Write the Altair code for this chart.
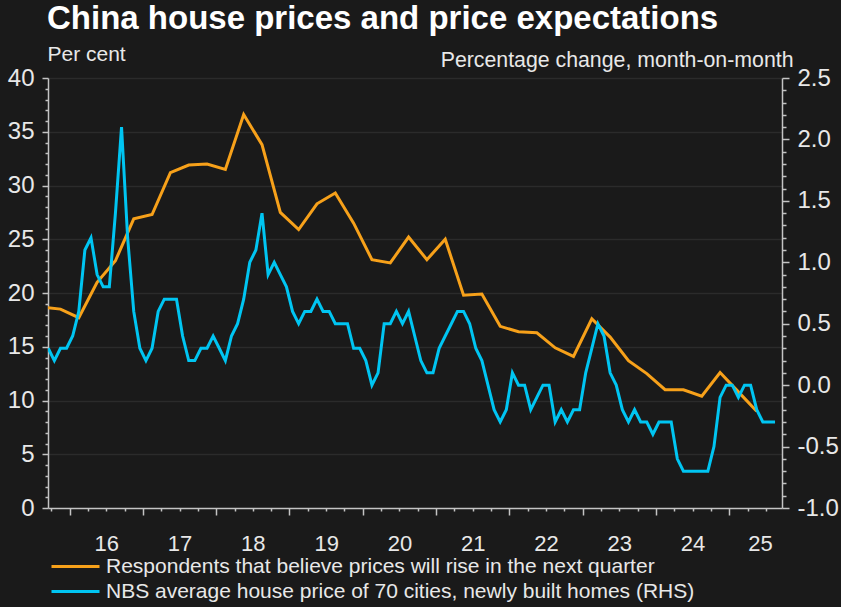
import altair as alt
import pandas as pd

# ---------------- data ----------------
ORANGE_NAME = "Respondents that believe prices will rise in the next quarter"
CYAN_NAME = "NBS average house price of 70 cities, newly built homes (RHS)"

# PBoC depositor survey, quarterly, starting 2015 Q3 (per cent)
survey_start = (2015, 3)
survey_values = [
    18.7, 18.5, 17.7, 21.0, 23.0, 26.9, 27.3, 31.2, 31.9, 32.0,
    31.5, 36.6, 33.8, 27.5, 25.9, 28.3, 29.3, 26.5, 23.1, 22.8,
    25.2, 23.1, 25.0, 19.8, 19.9, 16.9, 16.4, 16.3, 14.9, 14.1,
    17.6, 15.9, 13.7, 12.5, 11.0, 11.0, 10.4, 12.6, 10.8, 9.0,
]

# NBS 70-city new home prices, % m/m, monthly starting Sep 2015
nbs_start = (2015, 9)
nbs_values = [
    0.3, 0.2, 0.3, 0.3, 0.4, 0.6, 1.1, 1.2, 0.9, 0.8,
    0.8, 1.4, 2.1, 1.2, 0.6, 0.3, 0.2, 0.3, 0.6, 0.7,
    0.7, 0.7, 0.4, 0.2, 0.2, 0.3, 0.3, 0.4, 0.3, 0.2,
    0.4, 0.5, 0.7, 1.0, 1.1, 1.4, 0.9, 1.0, 0.9, 0.8,
    0.6, 0.5, 0.6, 0.6, 0.7, 0.6, 0.6, 0.5, 0.5, 0.5,
    0.3, 0.3, 0.2, 0.0, 0.1, 0.5, 0.5, 0.6, 0.5, 0.6,
    0.4, 0.2, 0.1, 0.1, 0.3, 0.4, 0.5, 0.6, 0.6, 0.5,
    0.3, 0.2, 0.0, -0.2, -0.3, -0.2, 0.1, 0.0, 0.0, -0.2,
    -0.1, 0.0, 0.0, -0.3, -0.2, -0.3, -0.2, -0.2, 0.1, 0.3,
    0.5, 0.4, 0.1, 0.0, -0.2, -0.3, -0.2, -0.3, -0.3, -0.4,
    -0.3, -0.3, -0.3, -0.6, -0.7, -0.7, -0.7, -0.7, -0.7, -0.5,
    -0.1, 0.0, 0.0, -0.1, 0.0, 0.0, -0.2, -0.3, -0.3, -0.3,
]

# ---------------- styling ----------------
BG = "#1a1a1a"
GRID = "#2b2b2b"
AXIS = "#c4c4c4"
TEXT = "#e8e8e8"
ORANGE = "#F7A11A"
CYAN = "#00C5F2"
FONT = "Liberation Sans"

# decimal-year positions (mid-month)
q_t = []
y, q = survey_start
for _ in survey_values:
    q_t.append(y + (3 * (q - 1) + 1.5) / 12)
    q += 1
    if q > 4:
        q, y = 1, y + 1

m_t = []
y, m = nbs_start
for _ in nbs_values:
    m_t.append(y + (m - 1 + 0.5) / 12)
    m += 1
    if m > 12:
        m, y = 1, y + 1

orange_df = pd.DataFrame({"t": q_t, "v": survey_values, "series": ORANGE_NAME})
cyan_df = pd.DataFrame({"t": m_t, "v": nbs_values, "series": CYAN_NAME})

x_ticks = [round(2015.75 + 0.25 * i, 2) for i in range(40)] + [2025.42]
label_expr_x = (
    "abs(datum.value - 2025.42) < 0.01 ? '25' : "
    "(abs(datum.value - floor(datum.value) - 0.5) < 0.01 && datum.value < 2025.4 "
    "? format(floor(datum.value) - 2000, 'd') : '')"
)

x_enc = alt.X(
    "t:Q",
    scale=alt.Scale(domain=[2015.705, 2025.72], nice=False, zero=False),
    axis=alt.Axis(
        values=x_ticks,
        title=None,
        grid=False,
        labelExpr=label_expr_x,
        labelOverlap=False,
        labelFontSize=22,
        labelPadding=22,
        tickSize={"condition": {"test": "abs(datum.value - round(datum.value)) < 0.01", "value": 7}, "value": 3},
        tickOpacity={"condition": {"test": "abs(datum.value - 2025.42) < 0.01", "value": 0}, "value": 1},
    ),
)

color_scale = alt.Scale(domain=[ORANGE_NAME, CYAN_NAME], range=[ORANGE, CYAN])

orange = alt.Chart(orange_df).mark_line(strokeWidth=3, clip=True).encode(
    x=x_enc,
    y=alt.Y(
        "v:Q",
        scale=alt.Scale(domain=[0, 40], nice=False),
        axis=alt.Axis(
            orient="left",
            values=list(range(41)),
            labelExpr="datum.value % 5 === 0 ? datum.label : ''",
            labelFontSize=24,
            labelPadding=8,
            tickSize={"condition": {"test": "datum.value % 5 === 0", "value": 6}, "value": 3},
            grid=True,
            gridColor=GRID,
            gridWidth=1.5,
            gridOpacity={"condition": {"test": "datum.value % 5 === 0 && datum.value > 0", "value": 1}, "value": 0},
            title="Per cent",
            titleAngle=0,
            titleAlign="left",
            titleBaseline="alphabetic",
            titleX=-1,
            titleY=-18,
            titleFontSize=21,
        ),
    ),
    color=alt.Color(
        "series:N",
        scale=color_scale,
        legend=alt.Legend(
            orient="none",
            legendX=14,
            legendY=475,
            direction="vertical",
            title=None,
            symbolType="M-2,0H2",
            symbolSize=576,
            symbolStrokeWidth=3,
            symbolFillColor="transparent",
            labelFontSize=21,
            labelColor=TEXT,
            labelFont=FONT,
            labelOffset=17,
            labelLimit=900,
            rowPadding=1,
            padding=0,
        ),
    ),
)

cyan = alt.Chart(cyan_df).mark_line(strokeWidth=3, clip=True).encode(
    x=x_enc,
    y=alt.Y(
        "v:Q",
        scale=alt.Scale(domain=[-1.0, 2.5], nice=False, zero=False),
        axis=alt.Axis(
            orient="right",
            values=[round(-1.0 + 0.1 * i, 1) for i in range(36)],
            labelExpr="abs(datum.value * 2 - round(datum.value * 2)) < 0.001 ? ((datum.value < -0.001 ? '-' : '') + format(abs(datum.value), '.1f')) : ''",
            labelFontSize=24,
            labelPadding=8,
            tickSize={"condition": {"test": "abs(datum.value * 2 - round(datum.value * 2)) < 0.001", "value": 7}, "value": 4},
            grid=False,
            title="Percentage change, month-on-month",
            titleAngle=0,
            titleAlign="right",
            titleBaseline="alphabetic",
            titleX=11,
            titleY=-12,
            titleFontSize=21.3,
        ),
    ),
    color=alt.Color("series:N", scale=color_scale),
)

chart = (
    alt.layer(orange, cyan)
    .resolve_scale(y="independent")
    .properties(
        width=734,
        height=430,
        padding={"left": 48, "top": 78, "right": 59, "bottom": 99},
        autosize=alt.AutoSizeParams(type="none"),
        background=BG,
        title=alt.TitleParams(
            "China house prices and price expectations",
            anchor="start",
            frame="group",
            color="#ffffff",
            font=FONT,
            fontSize=33,
            fontWeight="bold",
            offset=7,
            dx=-1,
        ),
    )
    .configure_axis(
        domainColor=AXIS,
        tickColor=AXIS,
        domainWidth=1.5,
        tickWidth=1.5,
        labelColor=TEXT,
        titleColor=TEXT,
        labelFont=FONT,
        titleFont=FONT,
        titleFontWeight="normal",
    )
    .configure_view(stroke=None)
)

chart.save("out.html", embed_options={"renderer": "svg", "actions": False})
